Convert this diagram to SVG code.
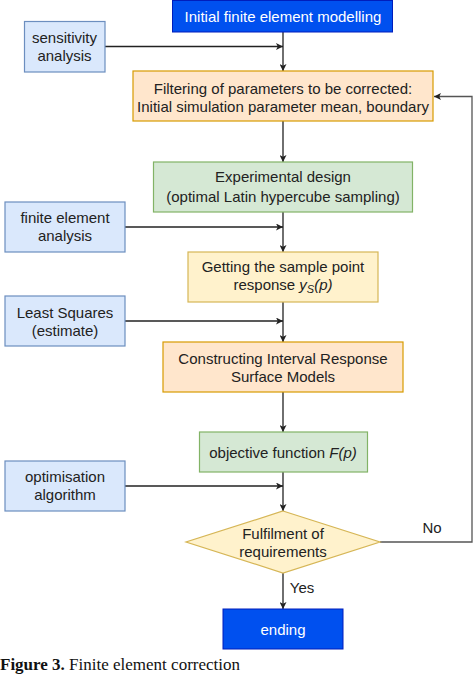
<svg xmlns="http://www.w3.org/2000/svg" width="474" height="675" viewBox="0 0 474 675">
<style>
text{font-family:"Liberation Sans",Arial,sans-serif;font-size:15px;fill:#222;text-anchor:middle}
.w{fill:#fff}
.blue{fill:#0050ef;stroke:#001dbc;stroke-width:1}
.side{fill:#dae8fc;stroke:#6c8ebf;stroke-width:1.2}
.orange{fill:#ffe6cc;stroke:#d79b00;stroke-width:1.2}
.green{fill:#d5e8d4;stroke:#82b366;stroke-width:1.2}
.yellow{fill:#fff2cc;stroke:#d6b656;stroke-width:1.2}
.ln{fill:none;stroke:#222;stroke-width:1.3}
.gl{fill:none;stroke:#555;stroke-width:1.3}
.cap{font-family:"Liberation Serif","Times New Roman",serif;font-size:17px;text-anchor:start;fill:#111}
</style>
<defs>
<marker id="ah" viewBox="0 0 10 10" refX="10" refY="5" markerWidth="7" markerHeight="7" orient="auto" markerUnits="userSpaceOnUse">
<path d="M0,0 L10,5 L0,10 L2.5,5 Z" fill="#222"/>
</marker>
</defs>
<g id="connectors">
<path class="ln" d="M283,32 V71" marker-end="url(#ah)"/>
<path class="ln" d="M105,46.5 H283" marker-end="url(#ah)"/>
<path class="ln" d="M283,121 V162" marker-end="url(#ah)"/>
<path class="ln" d="M283,212 V252" marker-end="url(#ah)"/>
<path class="ln" d="M125,227 H283" marker-end="url(#ah)"/>
<path class="ln" d="M283,302 V342" marker-end="url(#ah)"/>
<path class="ln" d="M125,321 H283" marker-end="url(#ah)"/>
<path class="ln" d="M283,392 V432" marker-end="url(#ah)"/>
<path class="ln" d="M283,472 V511" marker-end="url(#ah)"/>
<path class="ln" d="M125,486 H283" marker-end="url(#ah)"/>
<path class="ln" d="M283,573 V609" marker-end="url(#ah)"/>
<path class="gl" d="M380,542 H472 V96.5 H434" marker-end="url(#ah)"/>
<text x="432" y="533">No</text>
<text x="302" y="593">Yes</text>
</g>
<g id="start">
<rect class="blue" x="172.5" y="0.5" width="220" height="31.5"/>
<text class="w" x="283" y="22">Initial finite element modelling</text>
</g>
<g id="sensitivity">
<rect class="side" x="24.5" y="21.5" width="80.5" height="50.5"/>
<text x="64.5" y="43">sensitivity</text>
<text x="64.5" y="61">analysis</text>
</g>
<g id="filtering">
<rect class="orange" x="133" y="71" width="300" height="50"/>
<text x="283" y="94">Filtering of parameters to be corrected:</text>
<text x="283" y="112">Initial simulation parameter mean, boundary</text>
</g>
<g id="experimental">
<rect class="green" x="153.5" y="162" width="259" height="50"/>
<text x="283" y="182">Experimental design</text>
<text x="283" y="202">(optimal Latin hypercube sampling)</text>
</g>
<g id="fea">
<rect class="side" x="5" y="202" width="120" height="50"/>
<text x="65" y="223">finite element</text>
<text x="65" y="241">analysis</text>
</g>
<g id="sample">
<rect class="yellow" x="188" y="252" width="190" height="50"/>
<text x="283" y="272">Getting the sample point</text>
<text x="283" y="290">response <tspan font-style="italic">y</tspan><tspan font-style="italic" font-size="11" dy="3">S</tspan><tspan font-style="italic" dy="-3">(p)</tspan></text>
</g>
<g id="leastsquares">
<rect class="side" x="5" y="296" width="120" height="50"/>
<text x="65" y="318">Least Squares</text>
<text x="65" y="336">(estimate)</text>
</g>
<g id="constructing">
<rect class="orange" x="163" y="342" width="240" height="50"/>
<text x="283" y="364">Constructing Interval Response</text>
<text x="283" y="382">Surface Models</text>
</g>
<g id="objective">
<rect class="green" x="199.5" y="432" width="168" height="40"/>
<text x="283" y="458">objective function <tspan font-style="italic">F(p)</tspan></text>
</g>
<g id="optimisation">
<rect class="side" x="5" y="461" width="120" height="50"/>
<text x="65" y="482">optimisation</text>
<text x="65" y="500">algorithm</text>
</g>
<g id="decision">
<path class="yellow" d="M283,511 L380,542 L283,573 L186,542 Z"/>
<text x="283" y="539">Fulfilment of</text>
<text x="283" y="557">requirements</text>
</g>
<g id="ending">
<rect class="blue" x="223" y="609" width="120" height="40"/>
<text class="w" x="283" y="635">ending</text>
</g>
<text class="cap" x="0" y="670"><tspan font-weight="bold">Figure 3.</tspan> Finite element correction</text>
</svg>
